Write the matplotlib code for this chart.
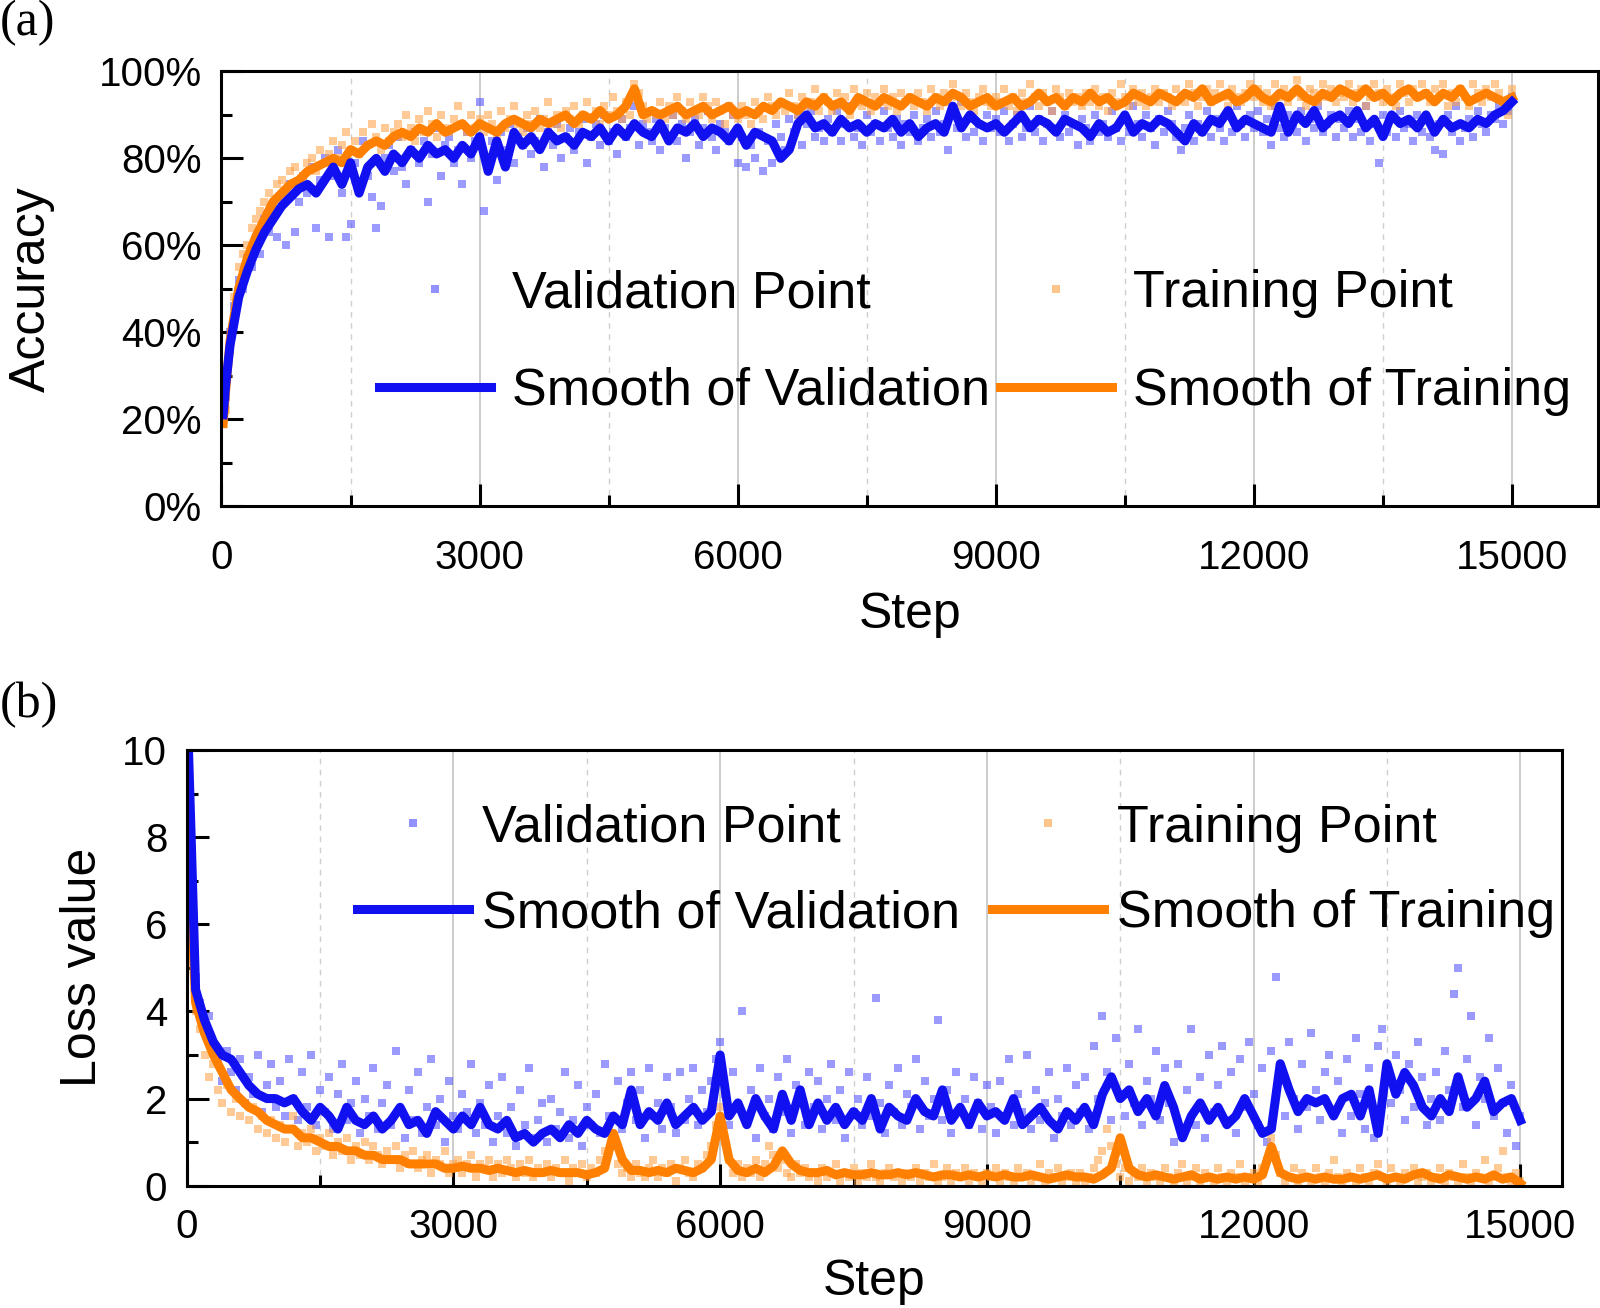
import matplotlib
matplotlib.use("Agg")
import matplotlib.pyplot as plt
import numpy as np
from matplotlib.lines import Line2D
from matplotlib.ticker import MultipleLocator, FuncFormatter

plt.rcParams["font.family"] = ["Liberation Sans", "DejaVu Sans"]

# ---- data ----
# smoothed curves: two early samples, then one value per 100 steps
smooth_early_steps = [20, 50]
smooth_steps = smooth_early_steps + list(range(100, 15001, 100))

acc_val_smooth = [21, 28,
    37, 48, 54, 59, 63, 66, 69, 71, 73, 74,
    72, 75, 78, 74, 79, 72, 78, 80, 77, 81,
    79, 82, 80, 83, 81, 82, 80, 83, 81, 85,
    77, 84, 78, 86, 83, 85, 82, 86, 84, 85,
    83, 86, 85, 87, 84, 87, 85, 88, 86, 85,
    88, 84, 87, 86, 88, 85, 87, 86, 84, 87,
    83, 86, 85, 84, 80, 82, 88, 90, 87, 88,
    86, 89, 87, 88, 86, 88, 87, 89, 86, 88,
    85, 87, 88, 86, 92, 87, 90, 88, 87, 88,
    86, 88, 90, 87, 89, 88, 86, 89, 88, 87,
    85, 88, 86, 87, 90, 86, 88, 87, 89, 88,
    86, 84, 88, 86, 89, 88, 91, 87, 89, 88,
    87, 86, 92, 86, 90, 88, 91, 87, 89, 90,
    88, 91, 87, 89, 85, 90, 88, 89, 87, 90,
    86, 89, 87, 88, 87, 89, 88, 90, 91, 93]

acc_train_smooth = [19, 27,
    38, 50, 57, 62, 66, 70, 72, 74, 75, 77,
    78, 79, 80, 79, 82, 81, 83, 84, 83, 85,
    86, 85, 87, 86, 88, 86, 87, 88, 86, 88,
    87, 86, 88, 89, 88, 87, 89, 88, 89, 90,
    88, 90, 89, 91, 89, 90, 92, 96, 90, 91,
    90, 91, 92, 90, 91, 92, 90, 91, 92, 90,
    91, 90, 92, 91, 93, 92, 91, 93, 92, 94,
    92, 93, 91, 94, 93, 92, 94, 93, 92, 94,
    93, 92, 94, 93, 95, 94, 92, 93, 94, 92,
    93, 94, 92, 93, 95, 93, 94, 92, 94, 93,
    95, 93, 94, 92, 93, 95, 94, 93, 95, 94,
    93, 95, 94, 96, 93, 94, 95, 93, 94, 96,
    94, 93, 95, 94, 96, 94, 93, 95, 94, 96,
    95, 94, 96, 94, 95, 93, 95, 96, 94, 95,
    93, 95, 94, 96, 93, 94, 95, 94, 93, 94]

loss_val_smooth = [10.0, 8.0,
    4.5, 3.8, 3.3, 3.0, 2.9, 2.6, 2.3, 2.1, 2.0, 2.0,
    1.9, 2.0, 1.7, 1.5, 1.8, 1.6, 1.3, 1.8, 1.5, 1.4,
    1.6, 1.3, 1.5, 1.8, 1.4, 1.5, 1.2, 1.7, 1.5, 1.3,
    1.6, 1.4, 1.8, 1.4, 1.3, 1.5, 1.1, 1.2, 1.0, 1.2,
    1.3, 1.1, 1.4, 1.2, 1.5, 1.3, 1.2, 1.6, 1.4, 2.2,
    1.4, 1.7, 1.5, 1.9, 1.4, 1.6, 1.8, 1.5, 1.7, 3.0,
    1.6, 1.9, 1.4, 2.0, 1.6, 1.3, 2.1, 1.5, 2.2, 1.4,
    1.9, 1.5, 1.8, 1.4, 1.7, 1.5, 2.0, 1.3, 1.8, 1.6,
    1.5, 2.0, 1.7, 1.6, 2.2, 1.5, 1.8, 1.4, 1.9, 1.6,
    1.7, 1.5, 2.0, 1.4, 1.6, 1.8, 1.5, 1.3, 1.7, 1.5,
    1.8, 1.4, 2.1, 2.5, 2.0, 2.2, 1.7, 2.0, 1.6, 2.3,
    1.8, 1.1, 1.6, 1.9, 1.5, 1.8, 1.4, 1.6, 2.0, 1.6,
    1.2, 1.3, 2.8, 2.2, 1.7, 2.0, 1.9, 2.0, 1.6, 2.0,
    2.1, 1.6, 2.2, 1.2, 2.8, 2.1, 2.6, 2.3, 1.8, 1.6,
    2.0, 1.7, 2.5, 1.8, 2.0, 2.4, 1.7, 1.9, 2.0, 1.5]

loss_train_smooth = [9.0, 6.5,
    4.2, 3.5, 3.0, 2.6, 2.2, 2.0, 1.8, 1.7, 1.5, 1.4,
    1.3, 1.3, 1.1, 1.1, 1.0, 0.9, 0.9, 0.8, 0.8, 0.7,
    0.7, 0.6, 0.6, 0.6, 0.5, 0.5, 0.5, 0.5, 0.4, 0.4,
    0.45, 0.4, 0.4, 0.35, 0.4, 0.35, 0.3, 0.35, 0.3, 0.3,
    0.35, 0.3, 0.3, 0.3, 0.25, 0.3, 0.4, 1.2, 0.6, 0.35,
    0.35, 0.3, 0.35, 0.3, 0.4, 0.35, 0.3, 0.4, 0.6, 1.6,
    0.6, 0.35, 0.3, 0.4, 0.3, 0.45, 0.8, 0.5, 0.35, 0.3,
    0.3, 0.35, 0.25, 0.3, 0.25, 0.25, 0.3, 0.25, 0.25, 0.3,
    0.25, 0.3, 0.25, 0.2, 0.25, 0.25, 0.2, 0.25, 0.2, 0.25,
    0.2, 0.25, 0.2, 0.2, 0.25, 0.2, 0.15, 0.2, 0.25, 0.2,
    0.2, 0.15, 0.25, 0.4, 1.1, 0.4, 0.25, 0.2, 0.25, 0.2,
    0.15, 0.2, 0.25, 0.15, 0.2, 0.15, 0.2, 0.15, 0.2, 0.15,
    0.25, 0.9, 0.3, 0.2, 0.15, 0.2, 0.15, 0.2, 0.15, 0.15,
    0.2, 0.15, 0.2, 0.25, 0.15, 0.2, 0.15, 0.25, 0.3, 0.2,
    0.15, 0.25, 0.2, 0.15, 0.2, 0.15, 0.25, 0.15, 0.2, 0.05]

# raw points: one value per 50 steps
point_steps = list(range(50, 15001, 50))

acc_val_pts = [
    25, 40, 46, 52, 50, 57, 55, 62, 58, 66, 63, 69, 62, 71, 60, 74, 63, 70, 76, 72,
    78, 64, 75, 80, 62, 76, 82, 72, 62, 65, 79, 73, 84, 76, 71, 64, 69, 80, 83, 77,
    85, 78, 74, 82, 86, 79, 84, 70, 81, 87, 76, 83, 85, 79, 82, 74, 86, 80, 84, 93,
    68, 80, 84, 75, 86, 82, 88, 79, 85, 83, 87, 81, 84, 89, 78, 86, 83, 88, 80, 85,
    87, 82, 86, 89, 79, 85, 88, 83, 90, 84, 86, 81, 89, 85, 87, 92, 83, 88, 86, 84,
    89, 82, 87, 85, 90, 84, 88, 80, 86, 89, 83, 87, 91, 85, 82, 88, 86, 84, 90, 79,
    85, 78, 83, 80, 86, 77, 84, 79, 88, 85, 82, 89, 86, 90, 83, 88, 91, 85, 87, 84,
    89, 86, 91, 84, 88, 92, 85, 87, 83, 90, 86, 88, 84, 91, 87, 85, 89, 83, 88, 86,
    90, 84, 87, 89, 85, 91, 86, 88, 82, 90, 87, 93, 85, 89, 86, 88, 84, 90, 87, 89,
    86, 91, 84, 88, 90, 85, 87, 92, 86, 89, 84, 88, 91, 87, 85, 90, 86, 88, 83, 89,
    87, 84, 90, 86, 88, 85, 91, 87, 84, 89, 86, 92, 88, 85, 90, 87, 83, 89, 86, 91,
    88, 85, 82, 87, 90, 84, 88, 86, 91, 85, 89, 87, 84, 90, 86, 92, 88, 85, 90, 87,
    91, 86, 89, 83, 92, 87, 85, 90, 88, 86, 91, 84, 89, 87, 92, 86, 88, 90, 85, 89,
    87, 91, 85, 89, 86, 92, 84, 88, 79, 90, 86, 89, 85, 91, 87, 88, 84, 90, 86, 89,
    85, 82, 88, 81, 90, 86, 92, 84, 87, 89, 85, 91, 88, 86, 90, 89, 92, 88, 91, 94]

acc_train_pts = [
    22, 36, 48, 55, 58, 60, 64, 66, 68, 70, 72, 69, 74, 75, 72, 77, 78, 74, 76, 79,
    80, 77, 82, 79, 81, 84, 80, 83, 86, 82, 84, 81, 86, 83, 88, 85, 82, 87, 84, 86,
    88, 85, 90, 87, 84, 89, 86, 91, 88, 85, 90, 87, 86, 89, 92, 88, 86, 90, 87, 89,
    86, 90, 88, 85, 91, 87, 89, 92, 88, 86, 90, 88, 91, 87, 89, 93, 88, 90, 87, 91,
    89, 92, 88, 90, 93, 89, 91, 88, 92, 90, 94, 91, 89, 93, 90, 97, 95, 92, 89, 91,
    90, 93, 89, 92, 90, 94, 91, 89, 93, 91, 90, 94, 92, 89, 93, 91, 88, 92, 90, 89,
    92, 90, 88, 93, 91, 89, 94, 92, 90, 93, 91, 95, 92, 90, 94, 92, 93, 96, 91, 94,
    93, 91, 95, 92, 94, 90, 96, 93, 92, 95, 91, 94, 93, 96, 92, 94, 91, 95, 93, 94,
    92, 95, 93, 91, 96, 94, 92, 95, 93, 97, 94, 92, 95, 93, 91, 94, 96, 93, 92, 94,
    93, 96, 92, 94, 91, 95, 93, 97, 94, 92, 95, 93, 91, 96, 94, 92, 95, 93, 94, 92,
    95, 93, 96, 92, 94, 91, 95, 93, 97, 94, 92, 96, 93, 95, 92, 94, 96, 93, 95, 94,
    92, 96, 94, 93, 97, 95, 92, 94, 96, 93, 95, 97, 94, 92, 96, 94, 93, 95, 97, 94,
    96, 93, 95, 92, 97, 94, 96, 93, 95, 98, 94, 92, 96, 95, 93, 97, 94, 96, 93, 95,
    94, 97, 93, 95, 96, 92, 94, 97, 95, 93, 96, 94, 92, 97, 95, 93, 96, 94, 97, 95,
    93, 96, 94, 97, 92, 95, 93, 96, 94, 92, 97, 95, 93, 96, 94, 97, 95, 93, 90, 96]

loss_val_pts = [
    7.5, 4.8, 4.2, 3.6, 3.9, 3.2, 2.9, 2.4, 3.1, 2.6, 2.2, 2.9, 1.9, 2.5, 2.1, 3.0, 1.7, 2.3, 2.8, 1.8,
    2.4, 1.6, 2.9, 2.0, 1.5, 2.6, 1.8, 3.0, 1.4, 2.2, 1.7, 2.5, 1.3, 2.1, 2.8, 1.5, 1.9, 2.4, 1.2, 2.0,
    1.6, 2.7, 1.3, 1.9, 2.3, 1.4, 3.1, 1.7, 1.1, 2.2, 1.5, 2.6, 1.2, 1.8, 2.9, 1.4, 2.0, 1.0, 2.4, 1.6,
    1.3, 2.1, 1.7, 2.8, 1.2, 1.9, 1.4, 2.3, 1.0, 1.6, 2.5, 1.2, 1.8, 0.9, 2.2, 1.4, 2.7, 1.1, 1.5, 1.9,
    1.0, 2.0, 1.3, 1.7, 2.6, 1.1, 1.5, 2.3, 0.9, 1.8, 1.4, 2.1, 1.2, 2.8, 1.6, 1.0, 2.4, 1.3, 1.9, 2.6,
    1.5, 2.2, 1.1, 2.7, 1.6, 1.9, 1.3, 2.5, 1.8, 1.2, 2.6, 1.5, 2.0, 2.7, 1.4, 2.2, 1.7, 2.4, 2.9, 3.3,
    2.1, 1.4, 2.6, 1.8, 4.0, 1.5, 2.2, 1.1, 2.7, 1.6, 2.0, 1.3, 2.5, 1.7, 2.9, 1.2, 2.3, 1.9, 1.4, 2.6,
    1.8, 2.4, 1.3, 2.0, 2.8, 1.5, 2.2, 1.1, 2.6, 1.7, 2.0, 1.4, 2.5, 1.6, 4.3, 1.9, 1.2, 2.3, 1.7, 2.7,
    1.4, 2.1, 1.8, 2.9, 1.3, 2.4, 1.6, 2.0, 3.8, 1.5, 2.2, 1.2, 2.6, 1.7, 2.0, 1.4, 2.5, 1.9, 1.3, 2.3,
    1.8, 1.2, 2.4, 1.6, 2.9, 1.4, 2.1, 1.7, 3.0, 1.3, 2.2, 1.5, 1.9, 2.6, 1.1, 2.0, 1.6, 2.7, 1.4, 2.3,
    1.7, 2.5, 1.3, 3.2, 2.0, 3.9, 2.6, 1.5, 3.4, 2.1, 1.6, 2.8, 1.9, 3.6, 1.4, 2.4, 2.0, 3.1, 1.5, 2.7,
    1.9, 1.0, 2.8, 1.3, 2.2, 3.6, 1.4, 2.5, 1.1, 3.0, 1.7, 2.3, 3.2, 1.5, 2.6, 1.2, 2.9, 1.8, 3.3, 2.1,
    1.4, 2.7, 1.0, 3.1, 4.8, 2.4, 1.6, 3.3, 2.0, 1.3, 2.8, 1.8, 3.5, 2.2, 1.5, 2.6, 3.0, 1.7, 2.4, 1.2,
    2.9, 1.6, 3.4, 2.1, 1.3, 2.7, 1.1, 3.2, 3.6, 2.4, 1.9, 3.0, 2.2, 1.5, 2.8, 1.8, 3.3, 2.5, 1.4, 2.0,
    2.6, 1.5, 3.1, 2.2, 4.4, 5.0, 1.8, 2.9, 3.9, 1.4, 2.5, 2.0, 3.4, 1.6, 2.7, 1.9, 1.2, 2.3, 0.9, 1.6]

loss_train_pts = [
    6.0, 4.0, 3.6, 3.0, 2.5, 2.8, 2.2, 1.9, 2.3, 1.7, 2.0, 1.6, 1.9, 1.5, 1.8, 1.3, 1.6, 1.2, 1.5, 1.1,
    1.4, 1.0, 1.3, 1.6, 0.9, 1.2, 1.0, 1.3, 0.8, 1.1, 0.9, 1.2, 0.7, 1.0, 0.8, 1.1, 0.6, 0.9, 0.7, 1.0,
    0.6, 0.9, 0.7, 0.5, 0.8, 0.6, 0.9, 0.4, 0.7, 0.5, 0.8, 0.4, 0.6, 0.7, 0.3, 0.6, 0.5, 0.8, 0.3, 0.5,
    0.6, 0.3, 0.5, 0.7, 0.2, 0.5, 0.4, 0.6, 0.2, 0.5, 0.3, 0.6, 0.4, 0.2, 0.5, 0.3, 0.6, 0.2, 0.4, 0.3,
    0.5, 0.2, 0.4, 0.3, 0.6, 0.1, 0.4, 0.3, 0.5, 0.2, 0.4, 0.3, 0.6, 0.8, 1.3, 1.0, 0.5, 0.3, 0.4, 0.2,
    0.5, 0.3, 0.2, 0.4, 0.6, 0.2, 0.4, 0.3, 0.5, 0.1, 0.4, 0.6, 0.3, 0.2, 0.5, 0.4, 0.7, 0.9, 1.4, 1.8,
    1.0, 0.6, 0.3, 0.5, 0.2, 0.4, 0.3, 0.6, 0.2, 0.5, 0.9, 0.7, 0.4, 0.6, 0.3, 0.2, 0.5, 0.3, 0.4, 0.2,
    0.3, 0.1, 0.4, 0.2, 0.3, 0.5, 0.1, 0.3, 0.2, 0.4, 0.1, 0.3, 0.2, 0.5, 0.2, 0.1, 0.3, 0.4, 0.2, 0.3,
    0.1, 0.3, 0.2, 0.4, 0.1, 0.3, 0.2, 0.5, 0.1, 0.2, 0.4, 0.1, 0.3, 0.2, 0.4, 0.1, 0.3, 0.2, 0.1, 0.3,
    0.2, 0.4, 0.1, 0.3, 0.2, 0.1, 0.4, 0.2, 0.3, 0.1, 0.2, 0.5, 0.1, 0.3, 0.2, 0.4, 0.1, 0.2, 0.3, 0.1,
    0.3, 0.1, 0.2, 0.4, 0.6, 0.8, 1.3, 0.9, 0.5, 0.2, 0.4, 0.1, 0.3, 0.2, 0.4, 0.1, 0.3, 0.2, 0.1, 0.4,
    0.2, 0.1, 0.3, 0.5, 0.1, 0.2, 0.4, 0.1, 0.3, 0.2, 0.1, 0.4, 0.2, 0.1, 0.3, 0.2, 0.5, 0.1, 0.2, 0.3,
    0.1, 0.4, 0.6, 1.1, 0.7, 0.3, 0.1, 0.2, 0.4, 0.1, 0.3, 0.2, 0.1, 0.4, 0.2, 0.1, 0.3, 0.6, 0.2, 0.1,
    0.3, 0.2, 0.1, 0.4, 0.2, 0.1, 0.3, 0.5, 0.2, 0.1, 0.4, 0.2, 0.1, 0.3, 0.2, 0.4, 0.1, 0.2, 0.3, 0.1,
    0.2, 0.4, 0.1, 0.3, 0.2, 0.1, 0.5, 0.2, 0.1, 0.3, 0.2, 0.6, 0.1, 0.2, 0.4, 0.8, 0.2, 0.1, 0.3, 0.1]

LEGEND_LABELS = ["Validation Point", "Smooth of Validation",
                 "Training Point", "Smooth of Training"]

BLUE = "#1010f0"
ORANGE = "#ff8000"
BLUE_PT = "#4a4aff"
ORANGE_PT = "#ffa040"
LINE_W = 6.5
PT_SIZE = 6


def style_axes(ax, xmax, ymax, ymajor, yminor, xpad):
    ax.set_xlim(0, xmax)
    ax.set_ylim(0, ymax)
    ax.xaxis.set_major_locator(MultipleLocator(3000))
    ax.xaxis.set_minor_locator(MultipleLocator(1500))
    ax.yaxis.set_major_locator(MultipleLocator(ymajor))
    ax.yaxis.set_minor_locator(MultipleLocator(yminor))
    ax.tick_params(which="both", direction="in", top=False, right=False, width=2.2)
    ax.tick_params(which="major", length=16, labelsize=29)
    ax.tick_params(which="minor", length=8)
    ax.tick_params(axis="y", pad=14)
    ax.tick_params(axis="x", pad=xpad)
    for s in ax.spines.values():
        s.set_linewidth(2.2)
    ax.grid(True, which="major", axis="x", color="#c4c4c4", lw=1.2, ls="-")
    ax.grid(True, which="minor", axis="x", color="#cfcfcf", lw=1.0, ls=(0, (4, 4)))
    ax.set_axisbelow(True)


def draw_panel(ax, val_pts, train_pts, val_smooth, train_smooth):
    ax.plot(point_steps, val_pts, "s", ms=PT_SIZE, color=BLUE_PT, alpha=0.55, mew=0)
    ax.plot(point_steps, train_pts, "s", ms=PT_SIZE, color=ORANGE_PT, alpha=0.55, mew=0)
    ax.plot(smooth_steps, train_smooth, color=ORANGE, lw=LINE_W, solid_joinstyle="round")
    ax.plot(smooth_steps, val_smooth, color=BLUE, lw=LINE_W, solid_joinstyle="round")


def add_legend(ax, anchor, labelspacing, textpad, colspace):
    handles = [
        Line2D([], [], marker="s", ls="none", ms=PT_SIZE, color=BLUE_PT, alpha=0.6, mew=0),
        Line2D([], [], color=BLUE, lw=LINE_W),
        Line2D([], [], marker="s", ls="none", ms=PT_SIZE, color=ORANGE_PT, alpha=0.6, mew=0),
        Line2D([], [], color=ORANGE, lw=LINE_W),
    ]
    ax.legend(handles, LEGEND_LABELS, ncol=2, loc="center", bbox_to_anchor=anchor,
              frameon=False, fontsize=37.5, numpoints=1, handlelength=2.15,
              handletextpad=textpad, columnspacing=colspace,
              labelspacing=labelspacing, borderpad=0, borderaxespad=0)


fig = plt.figure(figsize=(16, 13.08), dpi=100)

# (a) accuracy
ax1 = fig.add_axes([0.1384, 0.6131, 0.8604, 0.3323])
draw_panel(ax1, acc_val_pts, acc_train_pts, acc_val_smooth, acc_train_smooth)
style_axes(ax1, 16000, 100, 20, 10, 24)
ax1.yaxis.set_major_formatter(FuncFormatter(lambda v, p: f"{v:.0f}%"))
ax1.set_ylabel("Accuracy", fontsize=36)
ax1.set_xlabel("Step", fontsize=36)
ax1.yaxis.set_label_coords(-0.121, 0.5)
ax1.xaxis.set_label_coords(0.5, -0.198)
add_legend(ax1, (0.5475, 0.376), 0.93, 0.4, 0.2)

# (b) loss
ax2 = fig.add_axes([0.1167, 0.0935, 0.8596, 0.3331])
draw_panel(ax2, loss_val_pts, loss_train_pts, loss_val_smooth, loss_train_smooth)
style_axes(ax2, 15470, 10, 2, 1, 16)
ax2.set_ylabel("Loss value", fontsize=36)
ax2.set_xlabel("Step", fontsize=36)
ax2.yaxis.set_label_coords(-0.0587, 0.5)
ax2.xaxis.set_label_coords(0.5, -0.168)
add_legend(ax2, (0.5594, 0.7226), 0.70, 0.25, 0.6)

fig.text(0.0, 1.0, "(a)", family="Liberation Serif", fontsize=36, ha="left", va="top")
fig.text(0.0, 0.4786, "(b)", family="Liberation Serif", fontsize=36, ha="left", va="top")

fig.savefig("out.png", dpi=100)
